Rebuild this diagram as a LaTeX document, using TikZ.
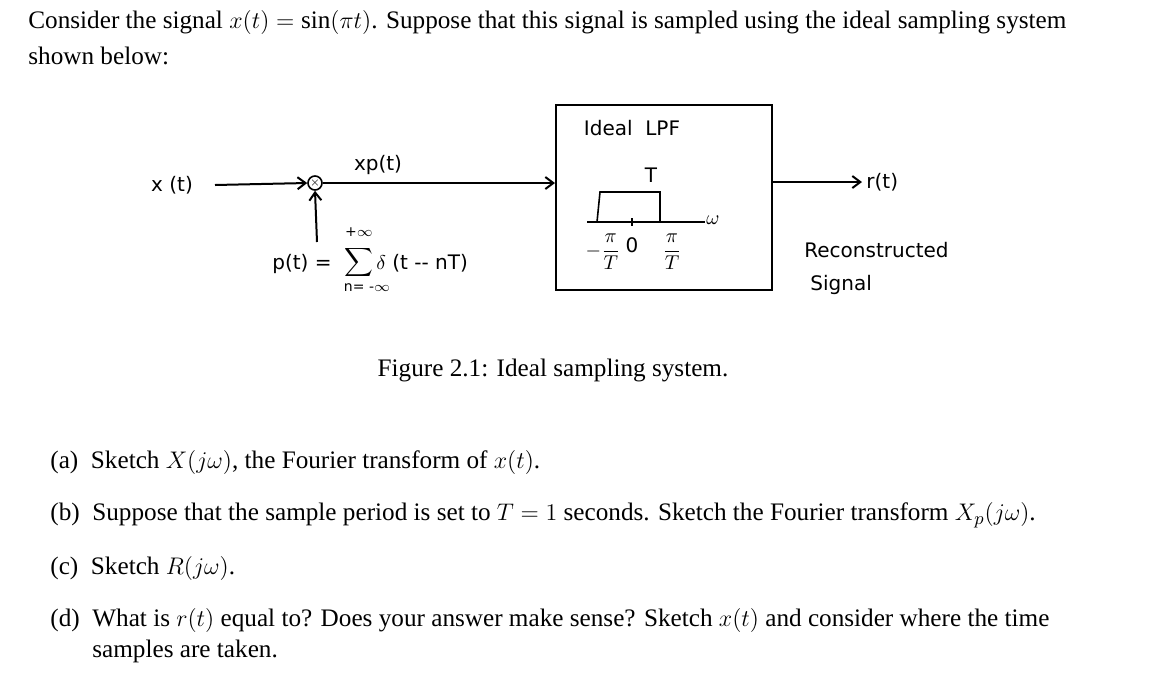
\documentclass[tikz,border=0pt]{standalone}
\usepackage{fontspec}
\setmainfont{Liberation Serif}
\newfontfamily\hand{DejaVu Sans}
\usetikzlibrary{arrows.meta}
\begin{document}
\begin{tikzpicture}[x=0.5pt,y=-0.5pt,
  txt/.style={anchor=west,inner sep=0pt,font=\fontsize{12.6}{15}\selectfont},
  hw/.style={inner sep=0pt,font=\hand\fontsize{10}{12}\selectfont},
  wire/.style={line width=1pt,-{Straight Barb[length=4pt,width=6pt]}}]
\useasboundingbox (0,0) rectangle (1152,687);
\node[txt] (l1) at (28,22) {Consider the signal $x(t)=\sin(\pi t)$. Suppose that this signal is sampled using the ideal sampling system};
\node[txt] (l2) at (28,56) {shown below:};
% diagram
\node[draw,line width=1pt,minimum width=108pt,minimum height=92.5pt,inner sep=0pt] (box) at (664,197.5) {};
\node[hw] (lpf) at (632,128) {Ideal\ \ LPF};
\node[hw] (x) at (172,185) {x (t)};
\node[draw,circle,line width=0.8pt,minimum size=7pt,inner sep=0pt,font=\tiny] (m) at (315,183) {$\times$};
\coordinate (xs) at (215,185);
\draw[wire] (xs) -- (m.west);
\draw[wire] (m.east) -- (box.west|-m);
\node[hw] (xp) at (378,165) {xp(t)};
\coordinate (ps) at (317,242);
\draw[wire] (ps) -- (m.south);
\node[hw,anchor=west] (p) at (272,264) {p(t) =};
\node[hw] (sum) at (359,262) {$\displaystyle\sum$};
\node[hw,font=\hand\fontsize{7}{8}\selectfont] (sup) at (359,232) {+$\infty$};
\node[hw,font=\hand\fontsize{7}{8}\selectfont] (sub) at (367,288) {n= -$\infty$};
\node[hw,anchor=west] (dl) at (376,263) {$\delta$ (t -- nT)};
% LPF drawing
\node[hw] (T) at (651,175) {T};
\coordinate (a0) at (587,222); \coordinate (a1) at (705,222);
\draw[line width=0.8pt] (a0) -- (a1);
\node[hw,anchor=west] (w) at (706,220) {$\omega$};
\draw[line width=0.8pt] (597,222) -- (600,192) -- (660,192) -- (660,222);
\draw[line width=0.6pt] (632,218) -- (632,226);
\node[hw] (mpi) at (603,252) {$-\displaystyle\frac{\pi}{T}$};
\node[hw] (zero) at (632,245) {0};
\node[hw] (ppi) at (672,252) {$\displaystyle\frac{\pi}{T}$};
% output
\coordinate (re) at (862,182);
\draw[wire] (box.east|-re) -- (re);
\node[hw,anchor=west] (r) at (866,182) {r(t)};
\node[hw,anchor=west] (rec1) at (804,250) {Reconstructed};
\node[hw,anchor=west] (rec2) at (810,285) {Signal};
% caption and questions
\node[txt,anchor=center] (cap) at (553,370) {Figure 2.1: Ideal sampling system.};
\node[txt] (qa) at (50,462) {(a)\ \ Sketch $X(j\omega)$, the Fourier transform of $x(t)$.};
\node[txt] (qb) at (50,515) {(b)\ \ Suppose that the sample period is set to $T=1$ seconds. Sketch the Fourier transform $X_p(j\omega)$.};
\node[txt] (qc) at (50,568) {(c)\ \ Sketch $R(j\omega)$.};
\node[txt] (qd) at (50,620) {(d)\ \ What is $r(t)$ equal to? Does your answer make sense? Sketch $x(t)$ and consider where the time};
\node[txt] (qd2) at (92,651) {samples are taken.};
\end{tikzpicture}
\end{document}
